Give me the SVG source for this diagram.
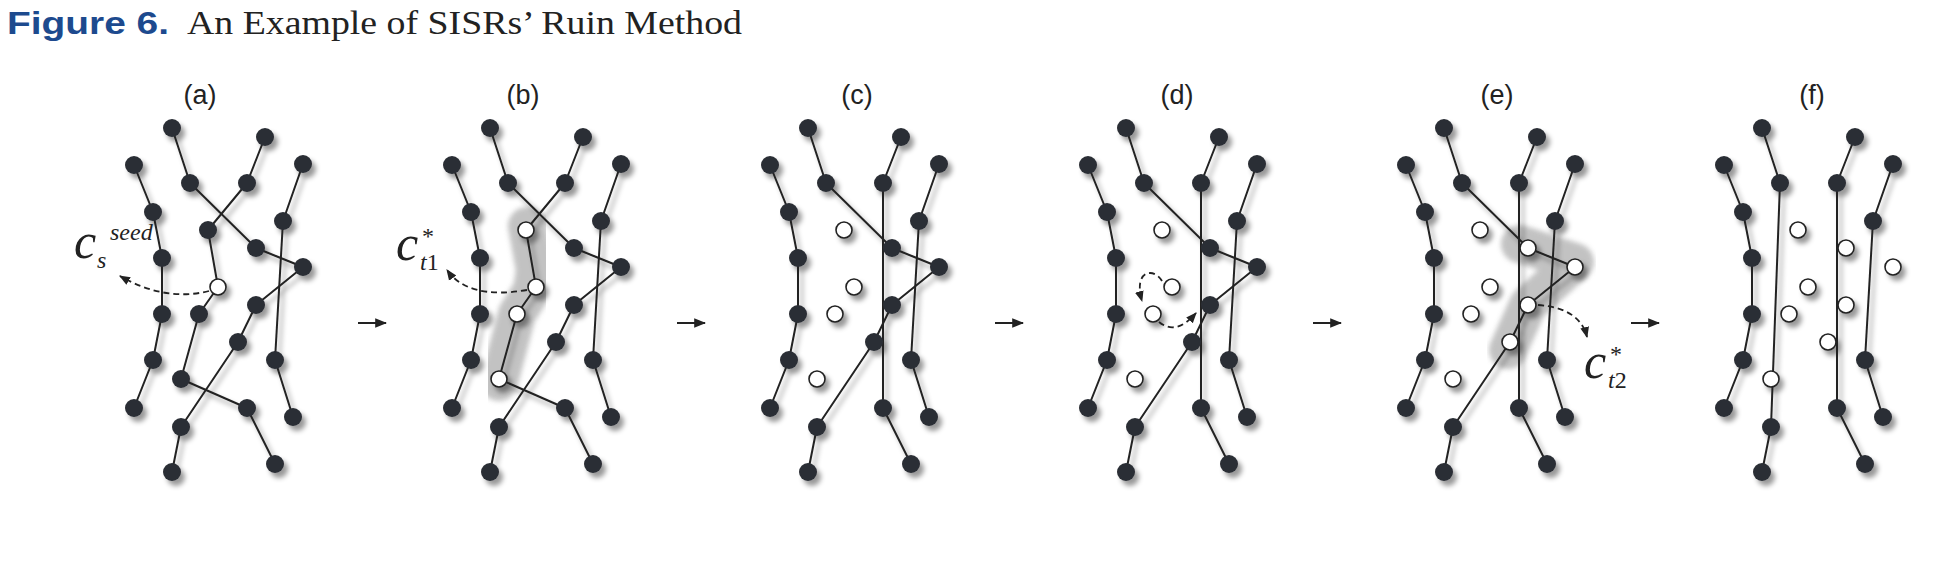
<svg xmlns="http://www.w3.org/2000/svg" width="1944" height="562" viewBox="0 0 1944 562">
<style>
.e{fill:none;stroke:#222;stroke-width:2;stroke-linejoin:round}
.n{fill:#2b2e35}
.w{fill:#fff;stroke:#222;stroke-width:1.6}
.blob{fill:none;stroke:#b4b4b4;stroke-width:38;stroke-linecap:round;stroke-linejoin:round;opacity:.8}
.d{fill:none;stroke:#222;stroke-width:1.8;stroke-dasharray:6 4}
.lbl{font-family:"Liberation Sans",Arial,sans-serif;font-size:27px;fill:#222;text-anchor:middle}
.m{font-family:"Liberation Serif","Times New Roman",serif;font-style:italic;fill:#222}
.up{font-style:normal}
</style>
<defs>
<filter id="sh" x="-20%" y="-20%" width="140%" height="140%">
<feDropShadow dx="4" dy="5" stdDeviation="2.5" flood-color="#000" flood-opacity="0.4"/>
</filter>
<filter id="bl" x="-30%" y="-30%" width="160%" height="160%"><feGaussianBlur stdDeviation="2.5"/></filter>
<marker id="ah" viewBox="0 0 10 10" refX="9" refY="5" markerWidth="11" markerHeight="11" markerUnits="userSpaceOnUse" orient="auto">
<path d="M0,1 L10,5 L0,9 z" fill="#222"/>
</marker>
<marker id="ah2" viewBox="0 0 10 10" refX="9" refY="5" markerWidth="12" markerHeight="12" markerUnits="userSpaceOnUse" orient="auto">
<path d="M0,1 L10,5 L0,9 z" fill="#222"/>
</marker>
</defs>
<rect width="1944" height="562" fill="#fff"/>
<text x="7" y="34" font-family="Liberation Sans,Arial,sans-serif" font-weight="bold" font-size="31" fill="#1d4a8e" textLength="162" lengthAdjust="spacingAndGlyphs">Figure 6.</text>
<text x="187" y="34" font-family="Liberation Serif,Times New Roman,serif" font-size="34" fill="#222" textLength="555" lengthAdjust="spacingAndGlyphs">An Example of SISRs’ Ruin Method</text>

<g id="labels">
<text class="lbl" x="200" y="104">(a)</text>
<text class="lbl" x="523" y="104">(b)</text>
<text class="lbl" x="857" y="104">(c)</text>
<text class="lbl" x="1177" y="104">(d)</text>
<text class="lbl" x="1497" y="104">(e)</text>
<text class="lbl" x="1812" y="104">(f)</text>
</g>

<g id="connectors">
<line x1="358" y1="323" x2="386" y2="323" stroke="#222" stroke-width="2" marker-end="url(#ah2)"/>
<line x1="677" y1="323" x2="705" y2="323" stroke="#222" stroke-width="2" marker-end="url(#ah2)"/>
<line x1="995" y1="323" x2="1023" y2="323" stroke="#222" stroke-width="2" marker-end="url(#ah2)"/>
<line x1="1313" y1="323" x2="1341" y2="323" stroke="#222" stroke-width="2" marker-end="url(#ah2)"/>
<line x1="1631" y1="323" x2="1659" y2="323" stroke="#222" stroke-width="2" marker-end="url(#ah2)"/>
</g>

<!-- Panel a -->
<g id="panel-a">
<g filter="url(#sh)">
<polyline class="e" points="134,165 153,212 162,258 162,314 153,360 134,408"/>
<polyline class="e" points="172,128 190,183 256,248 303,267 256,305 238,342 181,427 172,472"/>
<polyline class="e" points="265,137 247,183 208,230 218,287 199,314 181,379 247,408 275,464"/>
<polyline class="e" points="303,164 283,221 275,360 293,417"/>
<g id="a-A1"><circle class="n" cx="134" cy="165" r="9"/></g><g id="a-A2"><circle class="n" cx="153" cy="212" r="9"/></g><g id="a-A3"><circle class="n" cx="162" cy="258" r="9"/></g><g id="a-A4"><circle class="n" cx="162" cy="314" r="9"/></g><g id="a-A5"><circle class="n" cx="153" cy="360" r="9"/></g><g id="a-A6"><circle class="n" cx="134" cy="408" r="9"/></g>
<g id="a-B1"><circle class="n" cx="172" cy="128" r="9"/></g><g id="a-B2"><circle class="n" cx="190" cy="183" r="9"/></g><g id="a-B3"><circle class="n" cx="256" cy="248" r="9"/></g><g id="a-B4"><circle class="n" cx="303" cy="267" r="9"/></g><g id="a-B5"><circle class="n" cx="256" cy="305" r="9"/></g><g id="a-B6"><circle class="n" cx="238" cy="342" r="9"/></g><g id="a-B7"><circle class="n" cx="181" cy="427" r="9"/></g><g id="a-B8"><circle class="n" cx="172" cy="472" r="9"/></g>
<g id="a-C1"><circle class="n" cx="265" cy="137" r="9"/></g><g id="a-C2"><circle class="n" cx="247" cy="183" r="9"/></g><g id="a-C3"><circle class="n" cx="208" cy="230" r="9"/></g><g id="a-C4"><circle class="w" cx="218" cy="287" r="8"/></g><g id="a-C5"><circle class="n" cx="199" cy="314" r="9"/></g><g id="a-C6"><circle class="n" cx="181" cy="379" r="9"/></g><g id="a-C7"><circle class="n" cx="247" cy="408" r="9"/></g><g id="a-C8"><circle class="n" cx="275" cy="464" r="9"/></g>
<g id="a-D1"><circle class="n" cx="303" cy="164" r="9"/></g><g id="a-D2"><circle class="n" cx="283" cy="221" r="9"/></g><g id="a-D3"><circle class="n" cx="275" cy="360" r="9"/></g><g id="a-D4"><circle class="n" cx="293" cy="417" r="9"/></g>
</g>
<path class="d" d="M209,291 Q165,302 120,276" marker-end="url(#ah)"/>
<text class="m" x="74" y="258" font-size="50">c</text>
<text class="m" x="97" y="268" font-size="24">s</text>
<text class="m" x="110" y="240" font-size="24">seed</text>
</g>

<!-- Panel b -->
<g id="panel-b" transform="translate(318,0)">
<polyline class="blob" filter="url(#bl)" points="209,226 217,270 214,290 199,314 181,382"/>
<g filter="url(#sh)">
<polyline class="e" points="134,165 153,212 162,258 162,314 153,360 134,408"/>
<polyline class="e" points="172,128 190,183 256,248 303,267 256,305 238,342 181,427 172,472"/>
<polyline class="e" points="265,137 247,183 208,230 218,287 199,314 181,379 247,408 275,464"/>
<polyline class="e" points="303,164 283,221 275,360 293,417"/>
<g id="b-A1"><circle class="n" cx="134" cy="165" r="9"/></g><g id="b-A2"><circle class="n" cx="153" cy="212" r="9"/></g><g id="b-A3"><circle class="n" cx="162" cy="258" r="9"/></g><g id="b-A4"><circle class="n" cx="162" cy="314" r="9"/></g><g id="b-A5"><circle class="n" cx="153" cy="360" r="9"/></g><g id="b-A6"><circle class="n" cx="134" cy="408" r="9"/></g>
<g id="b-B1"><circle class="n" cx="172" cy="128" r="9"/></g><g id="b-B2"><circle class="n" cx="190" cy="183" r="9"/></g><g id="b-B3"><circle class="n" cx="256" cy="248" r="9"/></g><g id="b-B4"><circle class="n" cx="303" cy="267" r="9"/></g><g id="b-B5"><circle class="n" cx="256" cy="305" r="9"/></g><g id="b-B6"><circle class="n" cx="238" cy="342" r="9"/></g><g id="b-B7"><circle class="n" cx="181" cy="427" r="9"/></g><g id="b-B8"><circle class="n" cx="172" cy="472" r="9"/></g>
<g id="b-C1"><circle class="n" cx="265" cy="137" r="9"/></g><g id="b-C2"><circle class="n" cx="247" cy="183" r="9"/></g><g id="b-C3"><circle class="w" cx="208" cy="230" r="8"/></g><g id="b-C4"><circle class="w" cx="218" cy="287" r="8"/></g><g id="b-C5"><circle class="w" cx="199" cy="314" r="8"/></g><g id="b-C6"><circle class="w" cx="181" cy="379" r="8"/></g><g id="b-C7"><circle class="n" cx="247" cy="408" r="9"/></g><g id="b-C8"><circle class="n" cx="275" cy="464" r="9"/></g>
<g id="b-D1"><circle class="n" cx="303" cy="164" r="9"/></g><g id="b-D2"><circle class="n" cx="283" cy="221" r="9"/></g><g id="b-D3"><circle class="n" cx="275" cy="360" r="9"/></g><g id="b-D4"><circle class="n" cx="293" cy="417" r="9"/></g>
</g>
<path class="d" d="M209,290 Q150,300 129,270" marker-end="url(#ah)"/>
<text class="m" x="78" y="260" font-size="50">c</text>
<text class="m up" x="104" y="244" font-size="24">*</text>
<text class="m" x="102" y="270" font-size="24">t<tspan class="up">1</tspan></text>
</g>

<!-- Panel c -->
<g id="panel-c" transform="translate(636,0)">
<g filter="url(#sh)">
<polyline class="e" points="134,165 153,212 162,258 162,314 153,360 134,408"/>
<polyline class="e" points="172,128 190,183 256,248 303,267 256,305 238,342 181,427 172,472"/>
<polyline class="e" points="265,137 247,183 247,408 275,464"/>
<polyline class="e" points="303,164 283,221 275,360 293,417"/>
<g id="c-A1"><circle class="n" cx="134" cy="165" r="9"/></g><g id="c-A2"><circle class="n" cx="153" cy="212" r="9"/></g><g id="c-A3"><circle class="n" cx="162" cy="258" r="9"/></g><g id="c-A4"><circle class="n" cx="162" cy="314" r="9"/></g><g id="c-A5"><circle class="n" cx="153" cy="360" r="9"/></g><g id="c-A6"><circle class="n" cx="134" cy="408" r="9"/></g>
<g id="c-B1"><circle class="n" cx="172" cy="128" r="9"/></g><g id="c-B2"><circle class="n" cx="190" cy="183" r="9"/></g><g id="c-B3"><circle class="n" cx="256" cy="248" r="9"/></g><g id="c-B4"><circle class="n" cx="303" cy="267" r="9"/></g><g id="c-B5"><circle class="n" cx="256" cy="305" r="9"/></g><g id="c-B6"><circle class="n" cx="238" cy="342" r="9"/></g><g id="c-B7"><circle class="n" cx="181" cy="427" r="9"/></g><g id="c-B8"><circle class="n" cx="172" cy="472" r="9"/></g>
<g id="c-C1"><circle class="n" cx="265" cy="137" r="9"/></g><g id="c-C2"><circle class="n" cx="247" cy="183" r="9"/></g><g id="c-C3"><circle class="w" cx="208" cy="230" r="8"/></g><g id="c-C4"><circle class="w" cx="218" cy="287" r="8"/></g><g id="c-C5"><circle class="w" cx="199" cy="314" r="8"/></g><g id="c-C6"><circle class="w" cx="181" cy="379" r="8"/></g><g id="c-C7"><circle class="n" cx="247" cy="408" r="9"/></g><g id="c-C8"><circle class="n" cx="275" cy="464" r="9"/></g>
<g id="c-D1"><circle class="n" cx="303" cy="164" r="9"/></g><g id="c-D2"><circle class="n" cx="283" cy="221" r="9"/></g><g id="c-D3"><circle class="n" cx="275" cy="360" r="9"/></g><g id="c-D4"><circle class="n" cx="293" cy="417" r="9"/></g>
</g>
</g>

<!-- Panel d -->
<g id="panel-d" transform="translate(954,0)">
<g filter="url(#sh)">
<polyline class="e" points="134,165 153,212 162,258 162,314 153,360 134,408"/>
<polyline class="e" points="172,128 190,183 256,248 303,267 256,305 238,342 181,427 172,472"/>
<polyline class="e" points="265,137 247,183 247,408 275,464"/>
<polyline class="e" points="303,164 283,221 275,360 293,417"/>
<g id="d-A1"><circle class="n" cx="134" cy="165" r="9"/></g><g id="d-A2"><circle class="n" cx="153" cy="212" r="9"/></g><g id="d-A3"><circle class="n" cx="162" cy="258" r="9"/></g><g id="d-A4"><circle class="n" cx="162" cy="314" r="9"/></g><g id="d-A5"><circle class="n" cx="153" cy="360" r="9"/></g><g id="d-A6"><circle class="n" cx="134" cy="408" r="9"/></g>
<g id="d-B1"><circle class="n" cx="172" cy="128" r="9"/></g><g id="d-B2"><circle class="n" cx="190" cy="183" r="9"/></g><g id="d-B3"><circle class="n" cx="256" cy="248" r="9"/></g><g id="d-B4"><circle class="n" cx="303" cy="267" r="9"/></g><g id="d-B5"><circle class="n" cx="256" cy="305" r="9"/></g><g id="d-B6"><circle class="n" cx="238" cy="342" r="9"/></g><g id="d-B7"><circle class="n" cx="181" cy="427" r="9"/></g><g id="d-B8"><circle class="n" cx="172" cy="472" r="9"/></g>
<g id="d-C1"><circle class="n" cx="265" cy="137" r="9"/></g><g id="d-C2"><circle class="n" cx="247" cy="183" r="9"/></g><g id="d-C3"><circle class="w" cx="208" cy="230" r="8"/></g><g id="d-C4"><circle class="w" cx="218" cy="287" r="8"/></g><g id="d-C5"><circle class="w" cx="199" cy="314" r="8"/></g><g id="d-C6"><circle class="w" cx="181" cy="379" r="8"/></g><g id="d-C7"><circle class="n" cx="247" cy="408" r="9"/></g><g id="d-C8"><circle class="n" cx="275" cy="464" r="9"/></g>
<g id="d-D1"><circle class="n" cx="303" cy="164" r="9"/></g><g id="d-D2"><circle class="n" cx="283" cy="221" r="9"/></g><g id="d-D3"><circle class="n" cx="275" cy="360" r="9"/></g><g id="d-D4"><circle class="n" cx="293" cy="417" r="9"/></g>
</g>
<path class="d" d="M208,281 C200,267 179,270 188,301" marker-end="url(#ah)"/>
<path class="d" d="M205,322 Q222,336 242,313" marker-end="url(#ah)"/>
</g>

<!-- Panel e -->
<g id="panel-e" transform="translate(1272,0)">
<polyline class="blob" filter="url(#bl)" points="248,244 303,262 256,305 236,350"/>
<g filter="url(#sh)">
<polyline class="e" points="134,165 153,212 162,258 162,314 153,360 134,408"/>
<polyline class="e" points="172,128 190,183 256,248 303,267 256,305 238,342 181,427 172,472"/>
<polyline class="e" points="265,137 247,183 247,408 275,464"/>
<polyline class="e" points="303,164 283,221 275,360 293,417"/>
<g id="e-A1"><circle class="n" cx="134" cy="165" r="9"/></g><g id="e-A2"><circle class="n" cx="153" cy="212" r="9"/></g><g id="e-A3"><circle class="n" cx="162" cy="258" r="9"/></g><g id="e-A4"><circle class="n" cx="162" cy="314" r="9"/></g><g id="e-A5"><circle class="n" cx="153" cy="360" r="9"/></g><g id="e-A6"><circle class="n" cx="134" cy="408" r="9"/></g>
<g id="e-B1"><circle class="n" cx="172" cy="128" r="9"/></g><g id="e-B2"><circle class="n" cx="190" cy="183" r="9"/></g><g id="e-B3"><circle class="w" cx="256" cy="248" r="8"/></g><g id="e-B4"><circle class="w" cx="303" cy="267" r="8"/></g><g id="e-B5"><circle class="w" cx="256" cy="305" r="8"/></g><g id="e-B6"><circle class="w" cx="238" cy="342" r="8"/></g><g id="e-B7"><circle class="n" cx="181" cy="427" r="9"/></g><g id="e-B8"><circle class="n" cx="172" cy="472" r="9"/></g>
<g id="e-C1"><circle class="n" cx="265" cy="137" r="9"/></g><g id="e-C2"><circle class="n" cx="247" cy="183" r="9"/></g><g id="e-C3"><circle class="w" cx="208" cy="230" r="8"/></g><g id="e-C4"><circle class="w" cx="218" cy="287" r="8"/></g><g id="e-C5"><circle class="w" cx="199" cy="314" r="8"/></g><g id="e-C6"><circle class="w" cx="181" cy="379" r="8"/></g><g id="e-C7"><circle class="n" cx="247" cy="408" r="9"/></g><g id="e-C8"><circle class="n" cx="275" cy="464" r="9"/></g>
<g id="e-D1"><circle class="n" cx="303" cy="164" r="9"/></g><g id="e-D2"><circle class="n" cx="283" cy="221" r="9"/></g><g id="e-D3"><circle class="n" cx="275" cy="360" r="9"/></g><g id="e-D4"><circle class="n" cx="293" cy="417" r="9"/></g>
</g>
<path class="d" d="M266,305 Q308,308 315,337" marker-end="url(#ah)"/>
<text class="m" x="312" y="378" font-size="50">c</text>
<text class="m up" x="338" y="362" font-size="24">*</text>
<text class="m" x="336" y="388" font-size="24">t<tspan class="up">2</tspan></text>
</g>

<!-- Panel f -->
<g id="panel-f" transform="translate(1590,0)">
<g filter="url(#sh)">
<polyline class="e" points="134,165 153,212 162,258 162,314 153,360 134,408"/>
<polyline class="e" points="172,128 190,183 181,427 172,472"/>
<polyline class="e" points="265,137 247,183 247,408 275,464"/>
<polyline class="e" points="303,164 283,221 275,360 293,417"/>
<g id="f-A1"><circle class="n" cx="134" cy="165" r="9"/></g><g id="f-A2"><circle class="n" cx="153" cy="212" r="9"/></g><g id="f-A3"><circle class="n" cx="162" cy="258" r="9"/></g><g id="f-A4"><circle class="n" cx="162" cy="314" r="9"/></g><g id="f-A5"><circle class="n" cx="153" cy="360" r="9"/></g><g id="f-A6"><circle class="n" cx="134" cy="408" r="9"/></g>
<g id="f-B1"><circle class="n" cx="172" cy="128" r="9"/></g><g id="f-B2"><circle class="n" cx="190" cy="183" r="9"/></g><g id="f-B3"><circle class="w" cx="256" cy="248" r="8"/></g><g id="f-B4"><circle class="w" cx="303" cy="267" r="8"/></g><g id="f-B5"><circle class="w" cx="256" cy="305" r="8"/></g><g id="f-B6"><circle class="w" cx="238" cy="342" r="8"/></g><g id="f-B7"><circle class="n" cx="181" cy="427" r="9"/></g><g id="f-B8"><circle class="n" cx="172" cy="472" r="9"/></g>
<g id="f-C1"><circle class="n" cx="265" cy="137" r="9"/></g><g id="f-C2"><circle class="n" cx="247" cy="183" r="9"/></g><g id="f-C3"><circle class="w" cx="208" cy="230" r="8"/></g><g id="f-C4"><circle class="w" cx="218" cy="287" r="8"/></g><g id="f-C5"><circle class="w" cx="199" cy="314" r="8"/></g><g id="f-C6"><circle class="w" cx="181" cy="379" r="8"/></g><g id="f-C7"><circle class="n" cx="247" cy="408" r="9"/></g><g id="f-C8"><circle class="n" cx="275" cy="464" r="9"/></g>
<g id="f-D1"><circle class="n" cx="303" cy="164" r="9"/></g><g id="f-D2"><circle class="n" cx="283" cy="221" r="9"/></g><g id="f-D3"><circle class="n" cx="275" cy="360" r="9"/></g><g id="f-D4"><circle class="n" cx="293" cy="417" r="9"/></g>
</g>
</g>
</svg>
